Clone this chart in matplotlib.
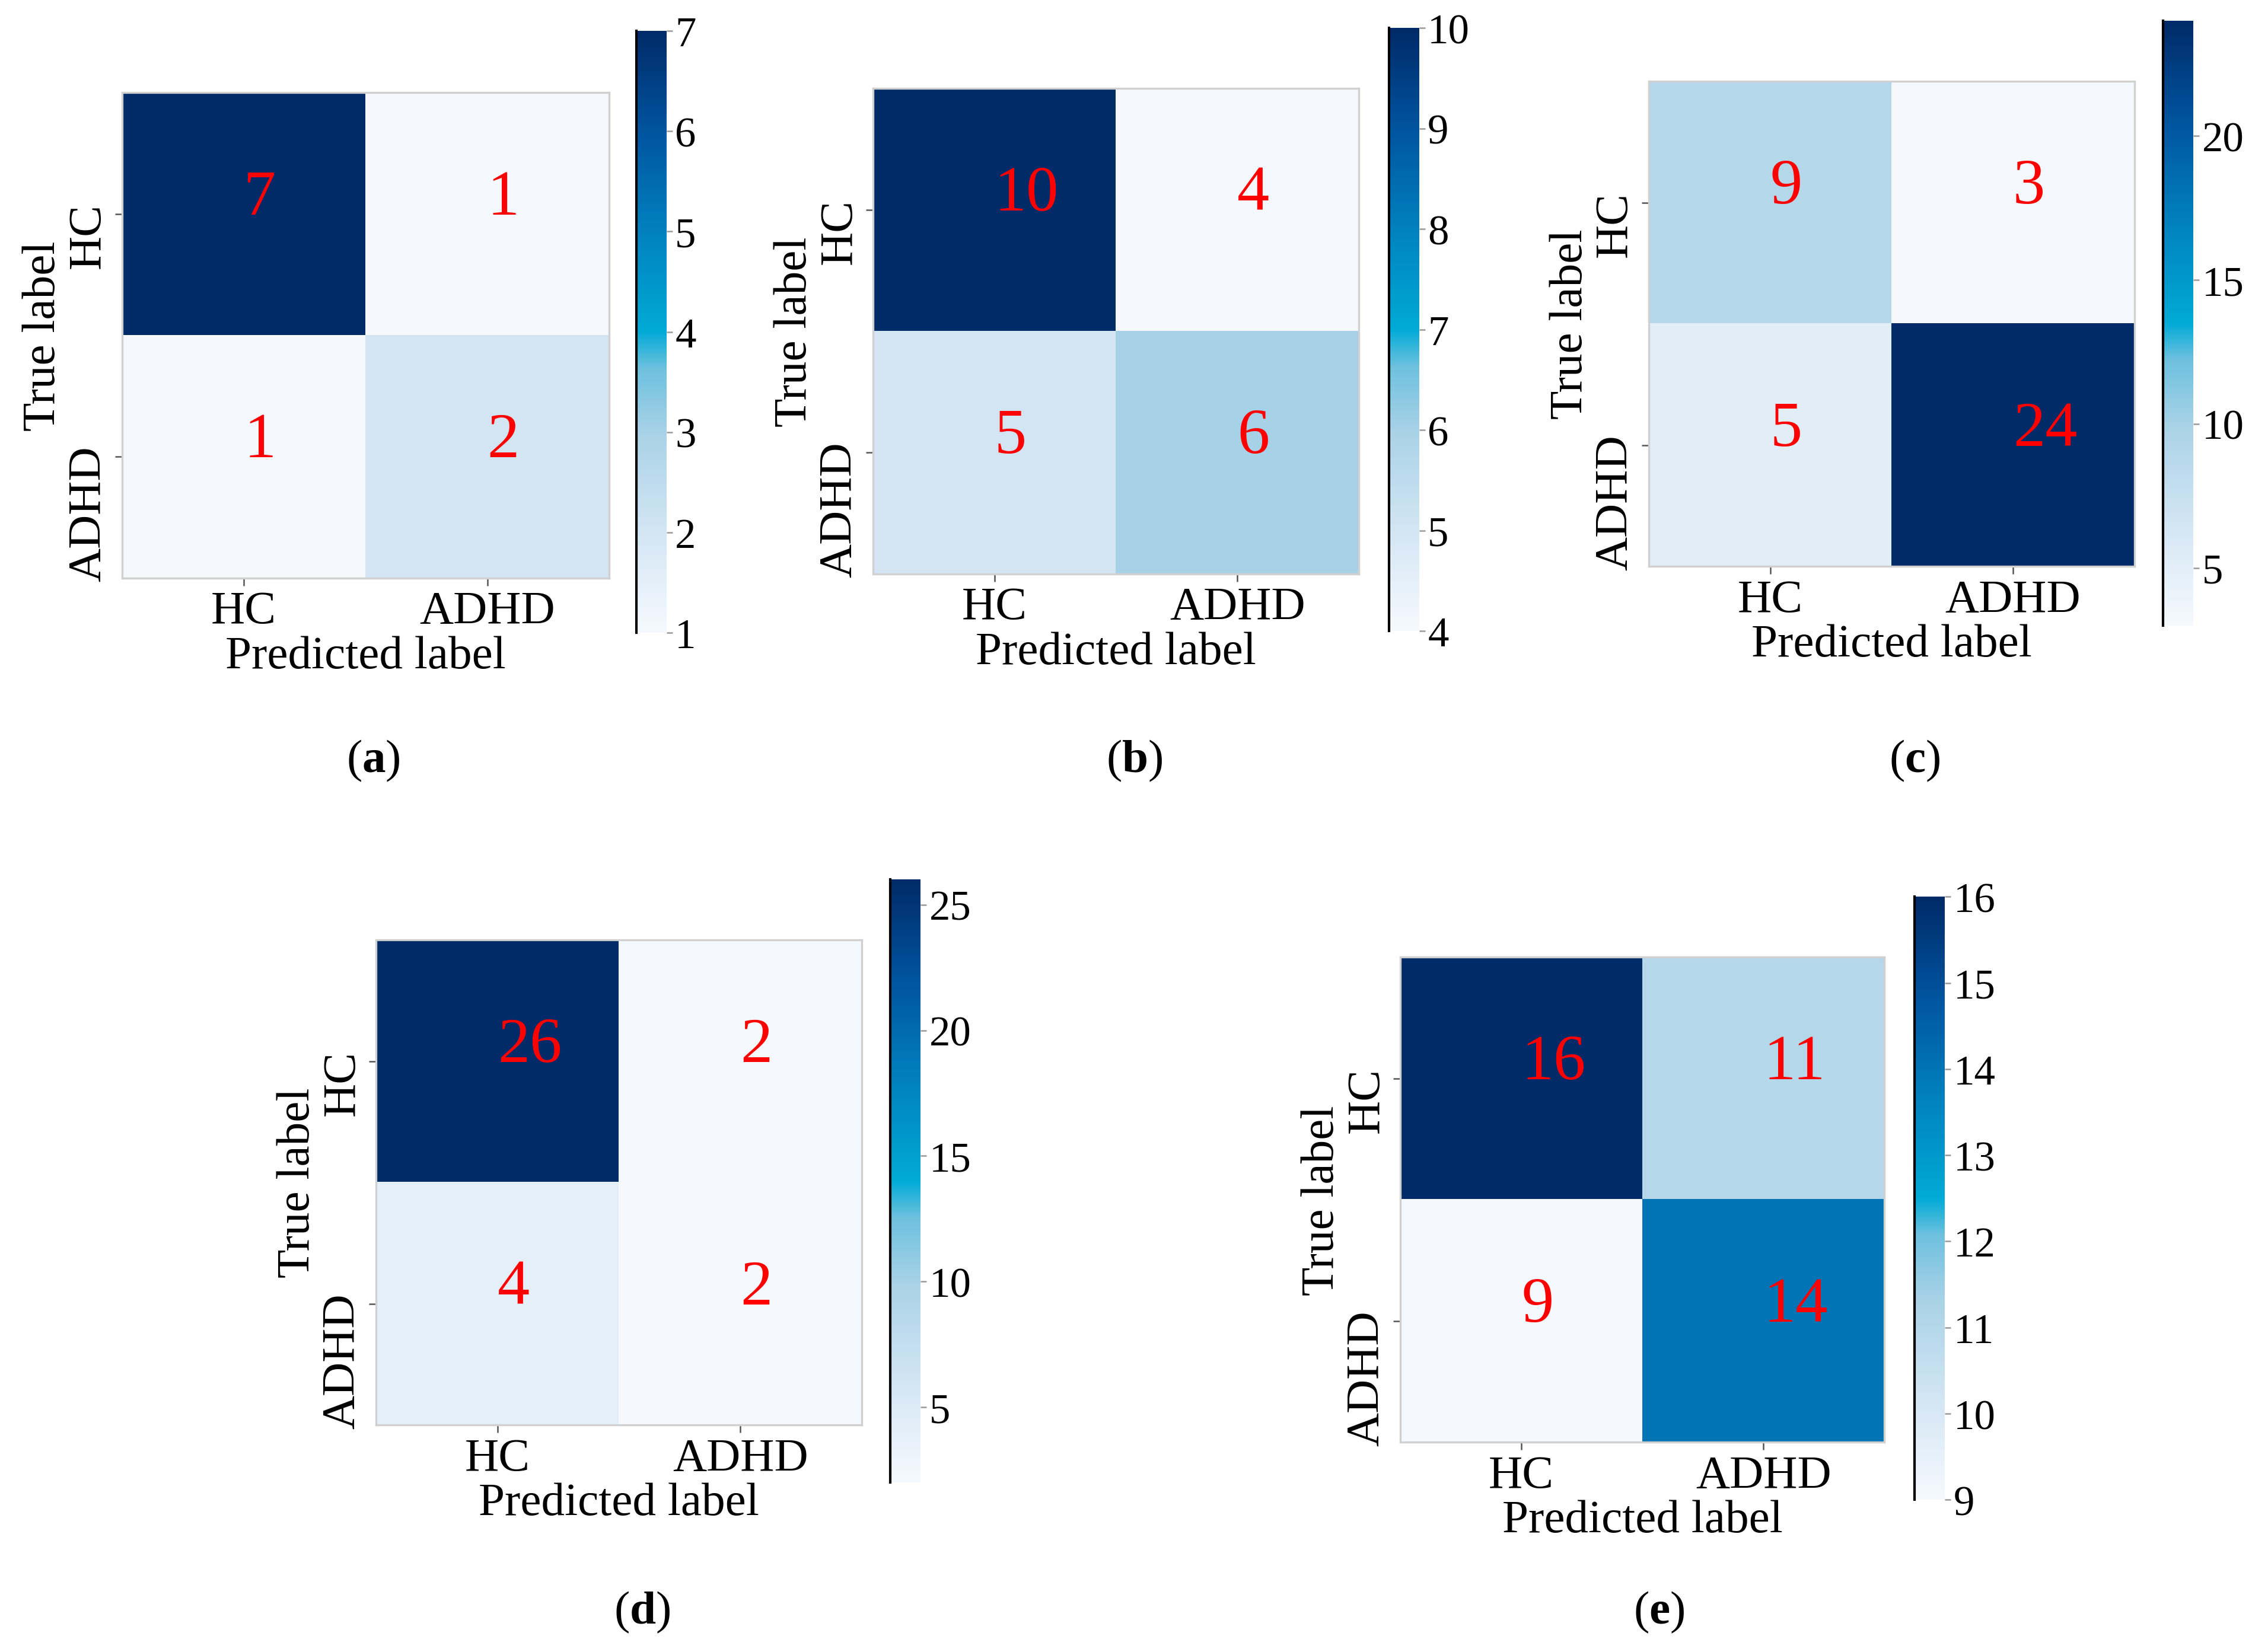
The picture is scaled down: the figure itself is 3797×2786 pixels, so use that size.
import matplotlib
matplotlib.use('Agg')
import matplotlib.pyplot as plt
import numpy as np
from matplotlib.colors import LinearSegmentedColormap
from matplotlib.ticker import MultipleLocator
from matplotlib.transforms import ScaledTranslation

# Data from the chart
class_labels = ['HC', 'ADHD']
cm_a = [[7, 1], [1, 2]]
cm_b = [[10, 4], [5, 6]]
cm_c = [[9, 3], [5, 24]]
cm_d = [[26, 2], [4, 2]]
cm_e = [[16, 11], [9, 14]]
panel_tags = ['a', 'b', 'c', 'd', 'e']
cbar_steps = [1, 1, 5, 5, 1]

matrices = [cm_a, cm_b, cm_c, cm_d, cm_e]

plt.rcParams['font.family'] = ['Liberation Serif', 'DejaVu Serif']
plt.rcParams['mathtext.fontset'] = 'custom'
plt.rcParams['mathtext.rm'] = 'Liberation Serif'
plt.rcParams['mathtext.bf'] = 'Liberation Serif:bold'

# saturated "Blues" as it appears in the figure
blues = LinearSegmentedColormap.from_list('blues_sat', [
    (0.00, '#f5f9fe'), (0.17, '#d2e5f3'), (0.33, '#a9d2e7'),
    (0.44, '#6cc0de'), (0.50, '#00aad6'), (0.67, '#0080be'),
    (0.83, '#0055a0'), (1.00, '#002a68')])

W, H = 1568, 1151  # layout measured on the shrunk reference
fig = plt.figure(figsize=(12.657, 9.29), dpi=300)

def rect(x0, y0, x1, y1):
    return [x0 / W, 1 - y1 / H, (x1 - x0) / W, (y1 - y0) / H]

# (heatmap box, colorbar box, tag position) in reference pixels
layout = [
    ((85, 65, 424, 403), (443, 22, 464, 441), (260, 530)),
    ((608, 62, 946, 400), (967, 20, 988, 440), (790, 530)),
    ((1148, 57, 1486, 395), (1506, 15, 1527, 436), (1333, 530)),
    ((262, 655, 600, 993), (620, 613, 641, 1033), (447, 1123)),
    ((975, 667, 1312, 1005), (1333, 625, 1354, 1045), (1155, 1123)),
]

# y tick labels start a little above their tick
ylab_shift = ScaledTranslation(0, 4.5 / 72, fig.dpi_scale_trans)

for cm, tag, step, (hm, cb, pos) in zip(matrices, panel_tags, cbar_steps, layout):
    data = np.array(cm)
    ax = fig.add_axes(rect(*hm))
    im = ax.imshow(data, cmap=blues, vmin=data.min(), vmax=data.max(),
                   aspect='auto', interpolation='nearest')
    for i in range(data.shape[0]):
        for j in range(data.shape[1]):
            ax.text(j, i, str(data[i, j]), color='red', fontsize=26)
    ax.set_xticks(range(len(class_labels)))
    ax.set_yticks(range(len(class_labels)))
    ax.set_xticklabels(class_labels, fontsize=19)
    ax.set_yticklabels(class_labels, fontsize=19, rotation=90, va='top')
    ax.tick_params(length=3, width=0.6, color='#555555', pad=2)
    for lbl in ax.get_yticklabels():
        lbl.set_transform(lbl.get_transform() + ylab_shift)
    ax.set_xlabel('Predicted label', fontsize=19, labelpad=1)
    ax.set_ylabel('True label', fontsize=19, labelpad=1)
    for s in ax.spines.values():
        s.set_color('#d0d0d0')
        s.set_linewidth(0.8)

    cax = fig.add_axes(rect(*cb))
    cbar = fig.colorbar(im, cax=cax)
    cbar.outline.set_visible(False)
    cax.yaxis.set_major_locator(MultipleLocator(step))
    cax.tick_params(labelsize=17, length=2.5, width=0.6, color='#999999', pad=1)
    cax.plot([0, 0], [0, 1], transform=cax.transAxes, color='black',
             lw=1.0, clip_on=False)

    fig.text(pos[0] / W, 1 - pos[1] / H, r'(${\bf ' + tag + r'}$)',
             fontsize=19, ha='center', va='center')

fig.savefig('out.png', dpi=300, facecolor='white')
